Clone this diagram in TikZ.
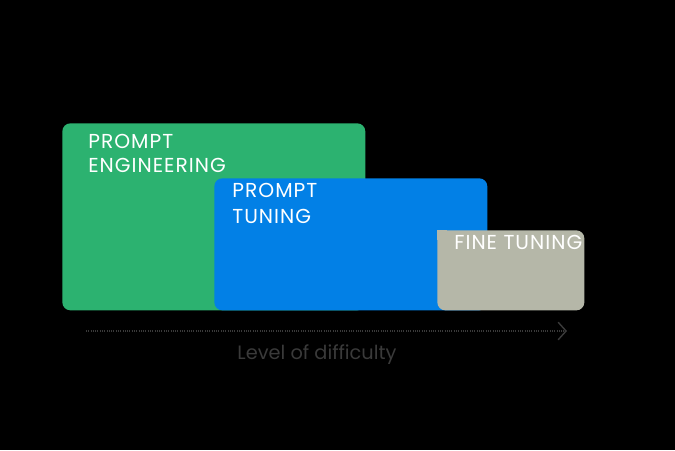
\documentclass[tikz,border=0pt]{standalone}
\usepackage{fontspec}
\setmainfont{Poppins}
\usetikzlibrary{arrows.meta,positioning}
\definecolor{peGreen}{RGB}{44,178,112}
\definecolor{ptBlue}{RGB}{2,128,230}
\definecolor{ftGray}{RGB}{181,183,168}
\definecolor{axisGray}{RGB}{58,58,58}
\begin{document}
\begin{tikzpicture}[
        >=Stealth, line join=round,
        x=0.02cm, y=-0.02cm,
        block/.style={rounded corners=0.16cm, inner sep=0pt, anchor=north west},
        lbl/.style={font=\fontsize{11.5}{13}\selectfont\addfontfeatures{LetterSpace=5}, text=white, anchor=base west, inner sep=0pt}
      ]
      % ---- background / frame ----
      \fill[black] (0,0) rectangle (675,450);

      % ---- the three blocks ----
      \node[block, fill=peGreen, minimum width=6.06cm, minimum height=3.74cm] (pe) at (62,123) {};
      \node[block, fill=ptBlue, minimum width=5.46cm, minimum height=2.64cm] (pt) at (214,178) {};
      \node[block, fill=ftGray, minimum width=2.94cm, minimum height=1.6cm] (ft) at (437,230) {};
      \fill[ftGray] (ft.north west) rectangle ++(10,10); % square top-left corner

      % ---- labels ----
      \node[lbl] (peA) at (88,148) {PROMPT};
      \node[lbl] (peB) at (88,172) {ENGINEERING};
      \node[lbl] (ptA) at (232,197) {PROMPT};
      \node[lbl] (ptB) at (232,223) {TUNING};
      \node[lbl] (ftA) at (454,249) {FINE TUNING};

      % ---- difficulty axis ----
      \coordinate (axisL) at (86,331);
      \coordinate (axisR) at (567,331);
      \draw[axisGray, line width=0.6pt, dash pattern=on 0.5pt off 0.8pt,
            -{Straight Barb[length=4.5pt,width=10pt,line width=0.8pt]}] (axisL) -- (axisR);
      \node[font=\fontsize{11}{13}\selectfont, text=axisGray, inner sep=0pt] (diff) at (317,355) {Level of difficulty};

    \end{tikzpicture}
\end{document}
